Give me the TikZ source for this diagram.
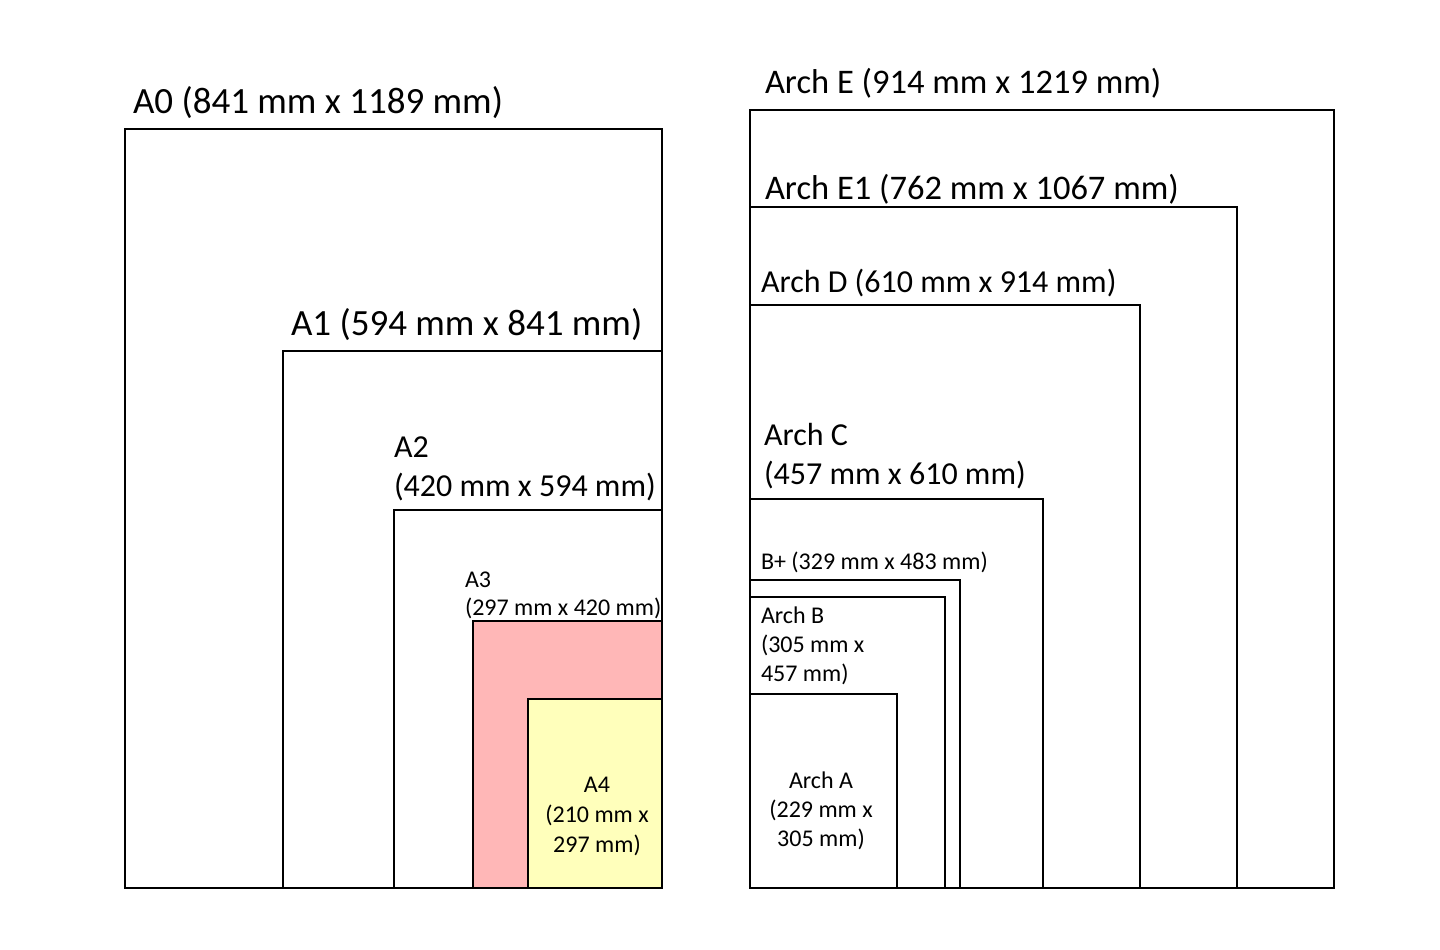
\documentclass[tikz,border=0pt]{standalone}
\usepackage{fontspec}
\setmainfont{Carlito}
\definecolor{athree}{HTML}{FFB7B7}
\definecolor{afour}{HTML}{FFFFBB}
\tikzset{
  thin box/.style={draw=black, line width=1.3pt},
  thick box/.style={draw=black, line width=2.8pt},
  lbl/.style={inner sep=0pt, outer sep=0pt, anchor=base west},
  clbl/.style={inner sep=0pt, outer sep=0pt, anchor=base},
  fbig/.style={font=\fontsize{37}{45}\selectfont},
  fE/.style={font=\fontsize{34.5}{42}\selectfont},
  fmid/.style={font=\fontsize{32}{39}\selectfont},
  fsmall/.style={font=\fontsize{24}{29.4}\selectfont},
}
\begin{document}
\begin{tikzpicture}[x=1pt,y=-1pt]
\useasboundingbox (0,0) rectangle (1440,950);
% ISO A series
\draw[thin box] (283,888) rectangle (662,351);
\draw[thin box] (394,888) rectangle (662,510);
\draw[thin box, fill=athree] (473,888) rectangle (662,621);
\draw[thin box, fill=afour] (528,888) rectangle (662,699);
\draw[thick box] (125,888) rectangle (662,129);
\node[lbl,fbig] (a0) at (133,113) {A0 (841 mm x 1189 mm)};
\node[lbl,fbig] (a1) at (291,335) {A1 (594 mm x 841 mm)};
\node[lbl,fmid] (a2) at (394,457) {A2};
\node[lbl,fmid] (a2s) at (394,496) {(420 mm x 594 mm)};
\node[lbl,fsmall] (a3) at (465,587) {A3};
\node[lbl,fsmall] (a3s) at (465,615) {(297 mm x 420 mm)};
\node[clbl,fsmall] (a4) at (597,792) {A4};
\node[clbl,fsmall] (a4s) at (597,822) {(210 mm x};
\node[clbl,fsmall] (a4t) at (597,852) {297 mm)};
% Architectural series
\draw[thin box] (750,888) rectangle (1237,207);
\draw[thin box] (750,888) rectangle (1140,305);
\draw[thin box] (750,888) rectangle (1043,499);
\draw[thin box] (750,888) rectangle (960,580);
\draw[thin box] (750,888) rectangle (945,597);
\draw[thin box] (750,888) rectangle (897,694);
\draw[thick box] (750,888) rectangle (1334,110);
\node[lbl,fE] (ae) at (765,93) {Arch E (914 mm x 1219 mm)};
\node[lbl,fE] (ae1) at (765,199) {Arch E1 (762 mm x 1067 mm)};
\node[lbl,fmid] (ad) at (761,292) {Arch D (610 mm x 914 mm)};
\node[lbl,fmid] (ac) at (764,445) {Arch C};
\node[lbl,fmid] (acs) at (764,484) {(457 mm x 610 mm)};
\node[lbl,fsmall] (bp) at (761,569) {B+ (329 mm x 483 mm)};
\node[lbl,fsmall] (ab) at (761,623) {Arch B};
\node[lbl,fsmall] (abs) at (761,652) {(305 mm x};
\node[lbl,fsmall] (abt) at (761,681) {457 mm)};
\node[clbl,fsmall] (aa) at (821,788) {Arch A};
\node[clbl,fsmall] (aas) at (821,817) {(229 mm x};
\node[clbl,fsmall] (aat) at (821,846) {305 mm)};
\end{tikzpicture}
\end{document}
